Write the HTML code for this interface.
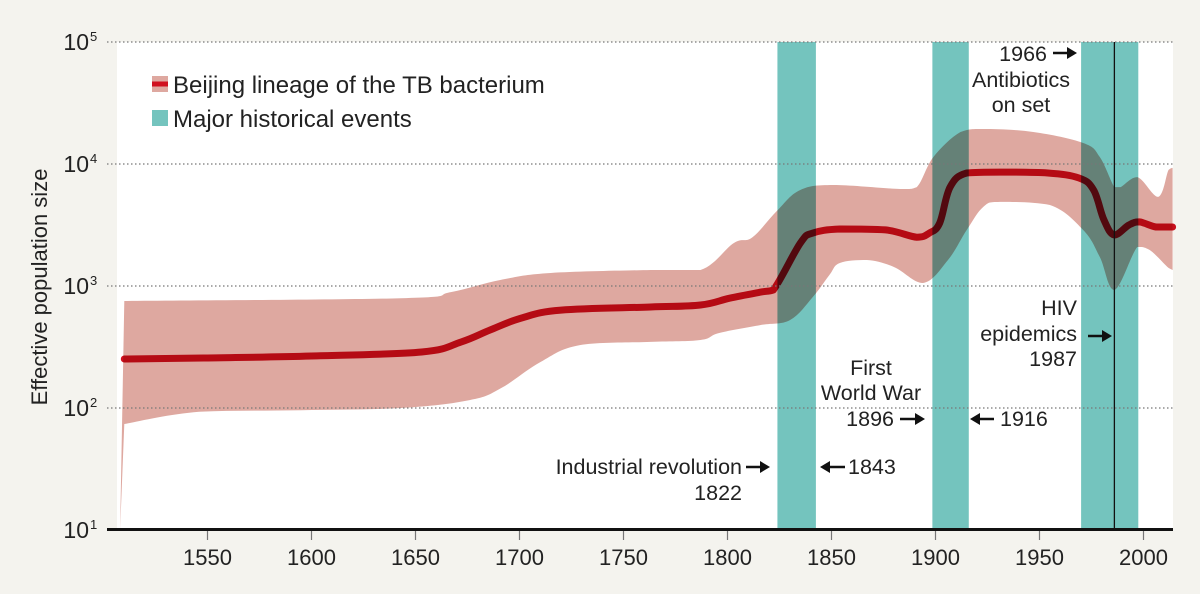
<!DOCTYPE html>
<html><head><meta charset="utf-8">
<style>
html,body{margin:0;padding:0;background:#f4f3ee;}
svg{display:block;font-family:"Liberation Sans",sans-serif;}
</style></head>
<body>
<svg id="chart" width="1200" height="594" viewBox="0 0 1200 594" xmlns="http://www.w3.org/2000/svg">
<rect x="0" y="0" width="1200" height="594" fill="#f4f3ee"/>
<rect x="117" y="42" width="1056" height="488" fill="#ffffff"/>
<g id="bands"></g>
<g id="series"></g>
<g id="grid"></g>
<g id="axes"></g>
<g id="annot" font-size="21.5" fill="#222">
  <text x="742" y="474" text-anchor="end">Industrial revolution</text>
  <text x="742" y="500" text-anchor="end">1822</text>
  <text x="848" y="474">1843</text>
  <text x="871" y="375" text-anchor="middle">First</text>
  <text x="871" y="400" text-anchor="middle">World War</text>
  <text x="894" y="426" text-anchor="end">1896</text>
  <text x="1000" y="426">1916</text>
  <text x="1077" y="315" text-anchor="end">HIV</text>
  <text x="1077" y="341" text-anchor="end">epidemics</text>
  <text x="1077" y="366" text-anchor="end">1987</text>
  <text x="1047" y="61" text-anchor="end">1966</text>
  <text x="1021" y="87" text-anchor="middle">Antibiotics</text>
  <text x="1021" y="112" text-anchor="middle">on set</text>
</g>
<g id="arrows" fill="#111" stroke="#111" stroke-width="2.5"></g>
<g id="legend" font-size="24" fill="#222">
  <rect x="152" y="76" width="16" height="16" fill="#dea8a0"/>
  <rect x="152" y="81.5" width="16" height="5" fill="#d0101f"/>
  <text x="173" y="93">Beijing lineage of the TB bacterium</text>
  <rect x="152" y="110" width="16" height="16" fill="#74c4be"/>
  <text x="173" y="127">Major historical events</text>
</g>
<text transform="translate(47,287) rotate(-90)" text-anchor="middle" font-size="22" fill="#222">Effective population size</text>
</svg>
<script>
const midYears=[1510,1550,1600,1653,1672,1686,1701,1720,1763,1787,1801,1816,1822,1835,1841,1854,1876,1891,1897,1902,1907,1915,1931,1954,1969,1976,1981,1986,1993,1998,2006,2014];
const midValues=[252,257,267,288,348,437,547,635,673,698,794,891,927,2249,2716,2931,2884,2512,2716,3281,6471,8433,8590,8433,7674,6124,3475,2618,3162,3350,3048,3048];
const upperYears=[1510,1643,1667,1691,1715,1763,1787,1803,1812,1824,1835,1851,1883,1891,1899,1912,1923,1947,1971,1979,1986,1989,1997,2007,2012,2014];
const upperValues=[753,794,891,1122,1279,1352,1352,2249,2512,4169,6124,6730,6237,6471,11402,18281,19364,18281,14859,11402,6471,6471,7816,5370,8933,9333];
const lowerYears=[1510,1546,1595,1643,1676,1691,1710,1729,1763,1787,1796,1816,1830,1841,1849,1854,1867,1880,1894,1906,1915,1923,1931,1955,1971,1979,1986,1997,2003,2012,2014];
const lowerValues=[74,93,96,100,116,145,238,328,348,361,412,479,525,813,1230,1545,1633,1432,1059,1633,2877,4446,4887,4613,2877,1730,927,2089,1972,1406,1349];
const spikeYear=1508;
const spikeValue=10;
const eventStarts=[1824,1898.5,1970];
const eventEnds=[1842.5,1916,1997.5];
const hivYear=1986;
const xTicks=[1550,1600,1650,1700,1750,1800,1850,1900,1950,2000];
const yTicks=[1,2,3,4,5];

const NS="http://www.w3.org/2000/svg";
function X(yr){return 207.5+(yr-1550)*2.08;}
function Y(v){return 530-(Math.log10(v)-1)*122;}
function mk(tag,attrs,parent){const e=document.createElementNS(NS,tag);for(const k in attrs)e.setAttribute(k,attrs[k]);parent.appendChild(e);return e;}
function clamp(v,a,b){const lo=Math.min(a,b),hi=Math.max(a,b);return Math.max(lo,Math.min(hi,v));}
function smooth(p,start){
  let d=(start?'M':'L')+p[0][0].toFixed(1)+','+p[0][1].toFixed(1);
  for(let i=0;i<p.length-1;i++){
    const p0=p[Math.max(i-1,0)],p1=p[i],p2=p[i+1],p3=p[Math.min(i+2,p.length-1)];
    const t=0.18;
    const c1=[p1[0]+(p2[0]-p0[0])*t,clamp(p1[1]+(p2[1]-p0[1])*t,p1[1],p2[1])];
    const c2=[p2[0]-(p3[0]-p1[0])*t,clamp(p2[1]-(p3[1]-p1[1])*t,p1[1],p2[1])];
    d+='C'+c1[0].toFixed(1)+','+c1[1].toFixed(1)+' '+c2[0].toFixed(1)+','+c2[1].toFixed(1)+' '+p2[0].toFixed(1)+','+p2[1].toFixed(1);
  }
  return d;
}

const bands=document.getElementById('bands');
for(let i=0;i<eventStarts.length;i++){
  const r=mk('rect',{x:X(eventStarts[i]),y:42,width:X(eventEnds[i])-X(eventStarts[i]),height:488,fill:'#74c4be'},bands);
  
  
}
const series=document.getElementById('series');
const up=upperYears.map((y,i)=>[X(y),Y(upperValues[i])]);
const lo=lowerYears.map((y,i)=>[X(y),Y(lowerValues[i])]).reverse();
const bandD=smooth(up,true)+smooth(lo,false)+'L'+X(spikeYear).toFixed(1)+','+Y(spikeValue).toFixed(1)+'Z';
const band=mk('path',{d:bandD,fill:'#dea8a0',style:'mix-blend-mode:multiply'},series);


const mid=midYears.map((y,i)=>[X(y),Y(midValues[i])]);
const line=mk('path',{d:smooth(mid,true),fill:'none',stroke:'#d0101f','stroke-width':7,'stroke-linejoin':'round','stroke-linecap':'round',style:'mix-blend-mode:multiply'},series);


const hiv=mk('line',{x1:X(hivYear),x2:X(hivYear),y1:42,y2:530,stroke:'#111','stroke-width':1.3},series);



const grid=document.getElementById('grid');
const axes=document.getElementById('axes');
yTicks.forEach(p=>{
  const y=Y(Math.pow(10,p));
  if(p>1){
    const g=mk('line',{x1:107,x2:1173,y1:y,y2:y,stroke:'#777','stroke-width':1.2,'stroke-dasharray':'1.5 2.5'},grid);
    
    
  }
  const t=mk('text',{x:89,y:y+8,'text-anchor':'end','font-size':23,fill:'#222'},axes);
  
  
  t.textContent='10';
  const s=mk('text',{x:90,y:y-1,'font-size':13,fill:'#222'},axes);
  
  
  s.textContent=String(p);
});
const ax=mk('line',{x1:107,x2:1173,y1:529.5,y2:529.5,stroke:'#111','stroke-width':3},axes);


xTicks.forEach(yr=>{
  const tk=mk('line',{x1:X(yr),x2:X(yr),y1:531,y2:540,stroke:'#777','stroke-width':1.2},axes);
  
  
  const t=mk('text',{x:X(yr),y:565,'text-anchor':'middle','font-size':22,fill:'#222'},axes);
  
  
  t.textContent=String(yr);
});

const arrows=document.getElementById('arrows');
function arrow(x1,x2,y,name){
  const g=mk('g',{},arrows);
  
  
  mk('line',{x1:x1,x2:x2-(x2>x1?6:-6),y1:y,y2:y},g);
  const dir=x2>x1?1:-1;
  mk('polygon',{points:`${x2},${y} ${x2-dir*10},${y-6} ${x2-dir*10},${y+6}`,stroke:'none'},g);
}
arrow(746,770,467,'arrow-1822');
arrow(845,820,467,'arrow-1843');
arrow(900,925,419,'arrow-1896');
arrow(994,970,419,'arrow-1916');
arrow(1088,1112,336,'arrow-1987');
arrow(1053,1077,53,'arrow-1966');
</script>
</body></html>
